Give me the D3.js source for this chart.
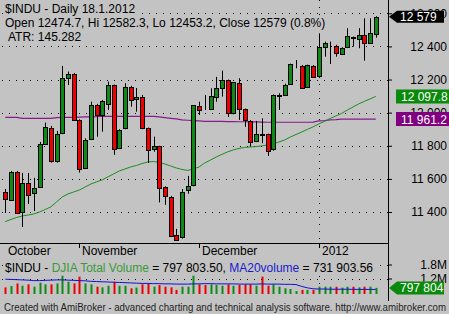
<!DOCTYPE html>
<html>
<head>
<meta charset="utf-8">
<script src="https://cdn.jsdelivr.net/npm/d3@7"></script>
<style>
html, body { margin: 0; padding: 0; background: #c3c3c3; }
svg { display: block; font-family: "Liberation Sans", Arial, sans-serif; }
</style>
</head>
<body>
<svg id="chart" width="449" height="314"></svg>
<script>
// trading days shown
var dates = [
  "2011-10-13","2011-10-14","2011-10-17","2011-10-18","2011-10-19","2011-10-20","2011-10-21",
  "2011-10-24","2011-10-25","2011-10-26","2011-10-27","2011-10-28","2011-10-31",
  "2011-11-01","2011-11-02","2011-11-03","2011-11-04","2011-11-07","2011-11-08","2011-11-09",
  "2011-11-10","2011-11-11","2011-11-14","2011-11-15","2011-11-16","2011-11-17","2011-11-18",
  "2011-11-21","2011-11-22","2011-11-23","2011-11-25","2011-11-28","2011-11-29","2011-11-30",
  "2011-12-01","2011-12-02","2011-12-05","2011-12-06","2011-12-07","2011-12-08","2011-12-09",
  "2011-12-12","2011-12-13","2011-12-14","2011-12-15","2011-12-16","2011-12-19","2011-12-20",
  "2011-12-21","2011-12-22","2011-12-23","2011-12-27","2011-12-28","2011-12-29","2011-12-30",
  "2012-01-03","2012-01-04","2012-01-05","2012-01-06","2012-01-09","2012-01-10","2012-01-11",
  "2012-01-12","2012-01-13","2012-01-17","2012-01-18"
];
var opens = [
  11523,11473,11644,11402,11577,11509,11549,11809,11909,11708,11876,12208,12234,
  11956,11664,11839,12045,11986,12057,12167,11785,11906,12157,12081,12094,11906,11775,
  11799,11550,11493,11261,11249,11529,11563,
  12042,12020,12021,12097,12147,12197,11996,12181,12020,11952,11825,11870,11870,11775,
  12103,12111,12172,12291,12284,12153,12284,
  12222,12395,12413,12405,12359,12395,12458,12449,12469,12419,12474.7
];
var highs = [
  11539,11648,11648,11636,11636,11606,11823,11940,11920,11889,12282,12248,12240,
  11960,11845,12066,12053,12077,12187,12170,11900,12178,12162,12149,12107,11910,11855,
  11800,11555,11497,11298,11539,11618,12046,
  12066,12107,12147,12216,12254,12200,12185,12208,12025,11955,11950,11966,11873,12110,
  12117,12175,12296,12318,12288,12290,12288,
  12479,12429,12429,12410,12395,12510,12460,12510,12570,12570,12582.3
];
var lows = [
  11394,11470,11394,11309,11448,11406,11545,11805,11698,11698,11870,12167,11950,
  11638,11660,11835,11855,11885,12016,11745,11780,11900,12036,12006,11900,11696,11764,
  11458,11443,11253,11231,11240,11510,11555,
  11986,12016,12016,12066,12097,11974,11990,11956,11915,11795,11822,11815,11739,11770,
  12016,12105,12168,12268,12149,12150,12217,
  12214,12338,12294,12338,12348,12390,12399,12389,12314,12415,12453.2
];
var closes = [
  11478,11644,11397,11577,11505,11542,11809,11914,11707,11869,12209,12231,11955,
  11658,11836,12044,11983,12068,12170,11781,11894,12154,12079,12096,11906,11771,11796,
  11547,11494,11258,11232,11523,11556,12046,
  12020,12019,12098,12150,12196,11998,12184,12021,11955,11823,11869,11866,11766,12104,
  12108,12170,12294,12291,12151,12287,12218,
  12397,12418,12416,12360,12393,12462,12449,12471,12422,12482,12579
];
// green moving average and purple long average
var maGreen = [
  11342,11355,11367,11376,11382,11388,11400,11415,11431,11461,11491,11509,11521,
  11533,11551,11569,11582,11594,11612,11630,11648,11660,11672,11681,11693,11702,11705,
  11699,11690,11678,11666,11657,11651,11660,
  11672,11696,11714,11732,11748,11763,11775,11784,11790,11793,11795,11799,11805,11811,
  11823,11835,11853,11868,11883,11899,11914,
  11932,11947,11965,11980,11995,12016,12034,12053,12068,12083,12097.8
];
var maPurple = [
  11972,11972,11972,11966,11966,11966,11966,11966,11966,11970,11971,11971,11972,
  11973,11974,11975,11976,11978,11978,11978,11978,11978,11978,11978,11978,11978,11977,
  11974,11970,11966,11962,11956,11954,11952,
  11950,11947,11947,11947,11947,11946,11946,11945,11945,11944,11944,11943,11942,11942,
  11942,11942,11942,11942,11942,11942,11943,
  11950,11952,11956,11958,11961,11961,11961,11961,11961,11961,11961.2
];
var volumes = [
  820000,880000,990000,890000,950000,850000,1020000,950000,950000,990000,1320000,1060000,990000,
  1280000,990000,950000,850000,820000,890000,1060000,890000,890000,780000,810000,950000,990000,850000,
  920000,850000,820000,710000,850000,850000,1320000,
  950000,920000,950000,920000,890000,950000,890000,920000,950000,950000,890000,1280000,890000,950000,
  850000,780000,750000,660000,710000,710000,710000,
  850000,850000,850000,850000,810000,850000,850000,820000,850000,850000,797803.50
];
var volMA20 = [
  1170000,1160000,1150000,1140000,1130000,1110000,1110000,1120000,1130000,1140000,1140000,1130000,1120000,
  1110000,1100000,1080000,1070000,1060000,1050000,1040000,1030000,1020000,1010000,1000000,990000,990000,980000,
  980000,970000,970000,960000,960000,960000,970000,
  970000,980000,980000,970000,970000,970000,970000,960000,960000,960000,960000,970000,960000,960000,
  960000,950000,950000,940000,860000,800000,760000,
  750000,750000,740000,740000,740000,740000,735000,735000,733000,733000,731903.56
];
var priceTicks = [11400, 11600, 11800, 12000, 12200, 12400, 12600];
var volTicks = [1200000, 1800000];
var atr = 145.282;

var monthNames = ["January","February","March","April","May","June","July",
  "August","September","October","November","December"];

var bg = "#c3c3c3";
var svg = d3.select("#chart");
var W = 449, plotRight = 388, priceBottom = 243, volBottom = 294;
var green = "#0f8a14", red = "#ee0000";

var loc = d3.formatLocale({decimal: ".", thousands: " ", grouping: [3], currency: ["", ""]});
var fmtInt = loc.format(",d"), fmt1 = loc.format(",.1f"), fmt2 = loc.format(",.2f");

var x = d3.scalePoint().domain(dates).range([5.3, 375.8]);
var y = d3.scaleLinear().domain([11400, 12600]).range([212, 13.3]);
var yv = d3.scaleLinear().domain([1200000, 1800000]).range([278.5, 264.5]);
var px = function(d) { return Math.round(x(d)); };

svg.append("rect").attr("width", W).attr("height", 314).attr("fill", bg);

// opaque box behind a text, as the title texts hide the grid
function textBg(t) {
  var node = t.node(), b = node.getBBox();
  d3.select(node.parentNode).insert("rect", function() { return node; })
    .attr("x", b.x - 1).attr("y", b.y).attr("width", b.width + 2).attr("height", b.height)
    .attr("fill", bg);
}

// month starts
var monthStarts = [];
dates.forEach(function(d, i) {
  var m = d.slice(0, 7);
  if (i == 0 || m != dates[i-1].slice(0, 7)) {
    var mo = +d.slice(5, 7) - 1;
    monthStarts.push({date: d, first: i == 0, label: mo == 0 ? d.slice(0, 4) : monthNames[mo], year: mo == 0});
  }
});

// grid
var grid = svg.append("g").attr("stroke", "#000").attr("stroke-dasharray", "1,6");
grid.selectAll("line.h").data(priceTicks).enter().append("line")
  .attr("x1", 2).attr("x2", plotRight)
  .attr("y1", function(d) { return Math.round(y(d)) + 0.5; })
  .attr("y2", function(d) { return Math.round(y(d)) + 0.5; });
grid.selectAll("line.vh").data(volTicks).enter().append("line")
  .attr("x1", 2).attr("x2", plotRight)
  .attr("y1", function(d) { return Math.round(yv(d)) + 0.5; })
  .attr("y2", function(d) { return Math.round(yv(d)) + 0.5; });
monthStarts.filter(function(m) { return m.year; }).forEach(function(m) {
  grid.append("line").attr("x1", px(m.date) + 0.5).attr("x2", px(m.date) + 0.5)
    .attr("y1", 0).attr("y2", priceBottom);
  grid.append("line").attr("x1", px(m.date) + 0.5).attr("x2", px(m.date) + 0.5)
    .attr("y1", 276).attr("y2", volBottom);
});

// moving averages
var idx = d3.range(dates.length);
var line = function(arr) {
  return d3.line().x(function(i) { return x(dates[i]); }).y(function(i) { return y(arr[i]); })(idx);
};
svg.append("path").attr("d", line(maPurple)).attr("fill", "none").attr("stroke", "#8a1a8a").attr("stroke-width", 1.2);
svg.append("path").attr("d", line(maGreen)).attr("fill", "none").attr("stroke", "#1e8c1e").attr("stroke-width", 1);

// candles
var candles = svg.append("g").selectAll("g").data(idx).enter().append("g");
candles.append("line")
  .attr("x1", function(i) { return px(dates[i]) + 0.5; })
  .attr("x2", function(i) { return px(dates[i]) + 0.5; })
  .attr("y1", function(i) { return y(highs[i]); })
  .attr("y2", function(i) { return y(lows[i]); })
  .attr("stroke", "#000");
candles.append("rect")
  .attr("x", function(i) { return px(dates[i]) - 1.5; })
  .attr("width", 4)
  .attr("y", function(i) { return Math.round(y(Math.max(opens[i], closes[i]))) + 0.5; })
  .attr("height", function(i) { return Math.max(0, Math.round(Math.abs(y(opens[i]) - y(closes[i])))); })
  .attr("fill", function(i) { return closes[i] >= opens[i] ? green : red; })
  .attr("stroke", "#000");

// volume
svg.append("g").selectAll("rect").data(idx).enter().append("rect")
  .attr("x", function(i) { return px(dates[i]) - 0.5; })
  .attr("width", 2)
  .attr("y", function(i) { return yv(volumes[i]); })
  .attr("height", function(i) { return volBottom - yv(volumes[i]); })
  .attr("fill", function(i) { return closes[i] >= opens[i] ? green : red; });
svg.append("path")
  .attr("d", d3.line().x(function(i) { return x(dates[i]); }).y(function(i) { return yv(volMA20[i]); })(idx))
  .attr("fill", "none").attr("stroke", "#1010d0").attr("stroke-width", 1);

// frame lines
svg.append("line").attr("x1", plotRight + 0.5).attr("x2", plotRight + 0.5).attr("y1", 0).attr("y2", 301).attr("stroke", "#000");
svg.append("line").attr("x1", 0).attr("x2", plotRight).attr("y1", priceBottom + 0.5).attr("y2", priceBottom + 0.5).attr("stroke", "#000");

// date axis
var dateAxis = svg.append("g").attr("font-size", 12).attr("fill", "#000");
monthStarts.forEach(function(m) {
  var mx = px(m.date);
  if (!m.first) {
    dateAxis.append("line").attr("x1", mx + 0.5).attr("x2", mx + 0.5)
      .attr("y1", priceBottom).attr("y2", priceBottom + 5).attr("stroke", "#000");
  }
  dateAxis.append("text").attr("x", mx + 3).attr("y", 255).text(m.label);
});

// price axis
var yAxis = d3.axisRight(y).tickValues(priceTicks).tickSize(4).tickFormat(fmtInt);
var ya = svg.append("g").attr("transform", "translate(" + plotRight + ",0)").call(yAxis);
ya.select(".domain").remove();
ya.selectAll("text").attr("x", 59).attr("text-anchor", "end")
  .attr("font-family", "Liberation Sans, Arial, sans-serif").attr("font-size", 12).attr("fill", "#000");

var vAxis = d3.axisRight(yv).tickValues(volTicks).tickSize(4)
  .tickFormat(function(d) { return (d / 1e6).toFixed(1) + "M"; });
var va = svg.append("g").attr("transform", "translate(" + plotRight + ",0)").call(vAxis);
va.select(".domain").remove();
va.selectAll("text").attr("x", 59).attr("text-anchor", "end")
  .attr("font-family", "Liberation Sans, Arial, sans-serif").attr("font-size", 12).attr("fill", "#000");
va.selectAll(".tick").filter(function(d) { return d == 1800000; }).select("text").each(function() {
  textBg(d3.select(this));
});

// value tags on the axis
function tag(v, scale, color, label, arrow, h) {
  var cy = scale(v);
  var g = svg.append("g");
  var pts = arrow ? [[389, cy], [397, cy - h / 2], [444, cy - h / 2], [444, cy + h / 2], [397, cy + h / 2]]
                  : [[396, cy - h / 2], [449, cy - h / 2], [449, cy + h / 2], [396, cy + h / 2]];
  g.append("polygon").attr("points", pts.map(function(p) { return p.join(","); }).join(" ")).attr("fill", color);
  g.append("text").attr("x", arrow ? 400 : 401).attr("y", cy + 4.5).attr("font-size", 12)
    .attr("fill", "#fff").text(label);
}
var last = dates.length - 1;
tag(closes[last], y, "#000", fmtInt(closes[last]), true, 12);
tag(maGreen[last], y, "#0a8a0a", fmt1(maGreen[last]), false, 14);
tag(maPurple[last], y, "#800080", fmt1(maPurple[last]), false, 14);
tag(volumes[last], yv, "#0a8a0a", fmtInt(Math.round(volumes[last])), true, 13);

// titles
var chg = (closes[last] / closes[last - 1] - 1) * 100;
var d0 = dates[last].split("-");
var title = svg.append("g").attr("font-size", 12).attr("fill", "#000");
textBg(title.append("text").attr("x", 5).attr("y", 13)
  .text("$INDU - Daily " + (+d0[2]) + "." + (+d0[1]) + "." + d0[0]));
textBg(title.append("text").attr("x", 5).attr("y", 27)
  .text("Open " + opens[last] + ", Hi " + highs[last] + ", Lo " + lows[last] +
        ", Close " + closes[last] + " (" + chg.toFixed(1) + "%)"));
textBg(title.append("text").attr("x", 8).attr("y", 40.5).text("ATR: " + atr));

var vg = svg.append("g");
var vt = vg.append("text").attr("x", 5).attr("y", 272).attr("font-size", 12).attr("fill", "#000");
vt.append("tspan").text("$INDU - ");
vt.append("tspan").attr("fill", "#3a9a3a").text("DJIA Total Volume");
vt.append("tspan").text(" = " + fmt2(volumes[last]) + ", ");
vt.append("tspan").attr("fill", "#1a1acc").text("MA20volume");
vt.append("tspan").text(" = " + fmt2(volMA20[last]));
textBg(vt);

svg.append("text").attr("x", 4).attr("y", 311).attr("font-size", 10).attr("fill", "#222")
  .attr("textLength", 442).attr("lengthAdjust", "spacingAndGlyphs")
  .text("Created with AmiBroker - advanced charting and technical analysis software. http://www.amibroker.com");
</script>
</body>
</html>
